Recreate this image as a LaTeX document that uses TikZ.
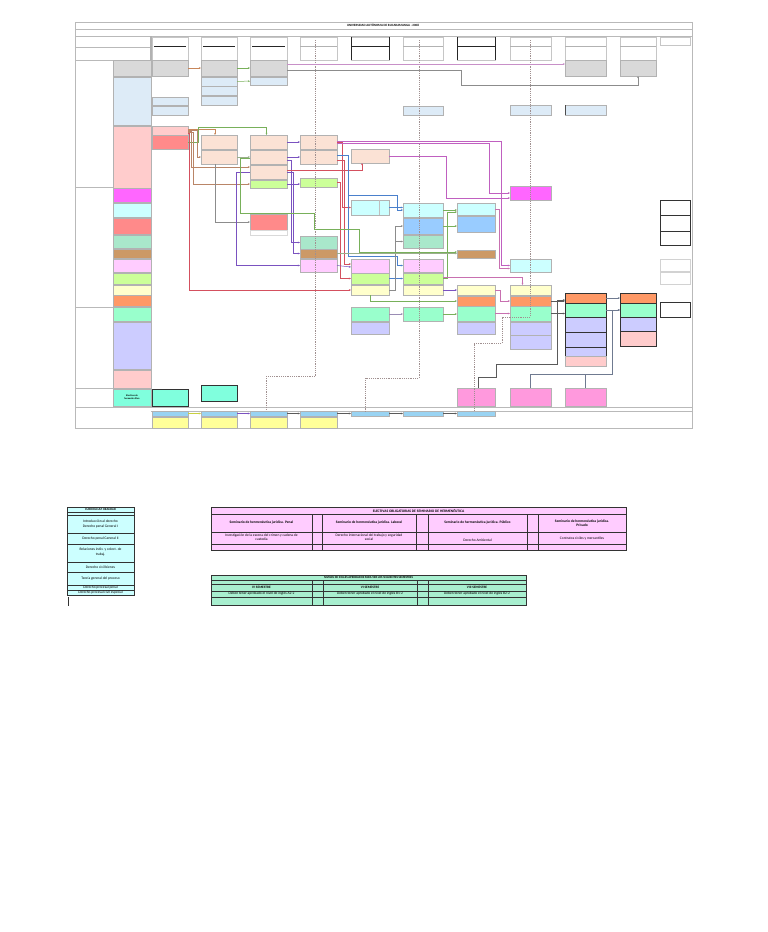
\documentclass[tikz,border=0pt]{standalone}
\usepackage{fontspec}
\setmainfont{Carlito}
\usetikzlibrary{arrows.meta, positioning, calc}

% cell fills
\definecolor{grayc}{HTML}{D9D9D9}
\definecolor{lblue}{HTML}{DDEBF7}
\definecolor{lred}{HTML}{FFCCCC}
\definecolor{salm}{HTML}{FF8A8A}
\definecolor{peach}{HTML}{FBE2D5}
\definecolor{lgreen}{HTML}{CCFF99}
\definecolor{magen}{HTML}{FF66FF}
\definecolor{lcyan}{HTML}{CCFFFF}
\definecolor{mint}{HTML}{A9E8CB}
\definecolor{tanc}{HTML}{CC9966}
\definecolor{lpink}{HTML}{FFCCFF}
\definecolor{lyellow}{HTML}{FFFFCC}
\definecolor{orangec}{HTML}{FF9966}
\definecolor{sgreen}{HTML}{99FFCC}
\definecolor{lavend}{HTML}{CCCCFF}
\definecolor{aqua}{HTML}{80FFDD}
\definecolor{bblue}{HTML}{99CCFF}
\definecolor{pinkm}{HTML}{FF99DD}
\definecolor{stripblue}{HTML}{99D3F2}
\definecolor{stripyellow}{HTML}{FFFF99}
\definecolor{tabmint}{HTML}{A8EFCF}
% line colours
\definecolor{lnorange}{HTML}{C8865A}
\definecolor{lngreen}{HTML}{78B05A}
\definecolor{lnmauve}{HTML}{C890C8}
\definecolor{lngray}{HTML}{8C8C8C}
\definecolor{lnbrown}{HTML}{B98567}
\definecolor{lnred}{HTML}{D4505E}
\definecolor{lngrayg}{HTML}{9AAE8C}
\definecolor{lnpurple}{HTML}{7A52C0}
\definecolor{lnmag}{HTML}{C060C0}
\definecolor{lnblue}{HTML}{4A80CC}
\definecolor{lnpink}{HTML}{C870B0}
\definecolor{lndark}{HTML}{5A5A5A}
\definecolor{lnslate}{HTML}{6F7A90}
\definecolor{lngrayp}{HTML}{9A8CB4}
\definecolor{lnyg}{HTML}{C8D040}
\definecolor{lndash}{HTML}{A09090}

\begin{document}
\begin{tikzpicture}[x=1pt, y=-1pt,
	cell/.style={draw=gray!60, line width=0.4pt, inner sep=0pt, outer sep=0pt, anchor=north west},
	blk/.style={cell, draw=black!80, line width=0.7pt},
	sz/.style 2 args={minimum width=#1pt, minimum height=#2pt},
	hdbox/.style={cell, draw=gray!45},
	frame/.style={gray!55, line width=0.5pt},
	link/.style={-{Stealth[length=2.2pt, width=1.8pt]}, line width=0.5pt},
	guide/.style={draw=lndash, line width=0.5pt, dash pattern=on 1.2pt off 1pt},
	tabline/.style={draw=black!80, line width=0.5pt},
	tabtxt/.style={inner sep=0pt, align=center, font=\fontsize{3.6}{4.3}\selectfont}
	]
	\path[use as bounding box, fill=white] (0,0) rectangle (768,932);

	% frame of the plan
	\draw[frame] (75,22) rectangle (692,428);
	\draw[frame] (75,29) -- (692,29) (75,36) -- (692,36) (75,47) -- (151,47) (75,60) -- (151,60);
	\draw[frame] (113,60) -- (113,407);
	\draw[gray!60, line width=1.2pt] (151,36) -- (151,407);
	\foreach \y in {187,307,388} \draw[frame] (75,\y) -- (113,\y);
	\draw[frame] (75,407) -- (692,407) (151,411) -- (692,411);
	\node[inner sep=0pt, font=\bfseries\fontsize{3.2}{3.8}\selectfont] (title) at (383,25.5) {UNIVERSIDAD AUTÓNOMA DE BUCARAMANGA - 2008};

	% semester headers
	\foreach \n/\x/\w in {1/152/36, 2/201/36, 3/250/37, 4/300/37, 5/351/38, 6/403/40, 7/457/38, 8/510/41, 9/565/41, 10/620/36}
		\node[hdbox, sz={\w}{23}] (hd\n) at (\x,37) {};
	\node[hdbox, sz={30}{8}] (hd11) at (660,37) {};
	\foreach \n in {1,2,3}
		\draw[line width=0.8pt, black!85] ($(hd\n.north west)+(2,9)$) -- ($(hd\n.north east)+(-2,9)$);
	\foreach \n in {4,6,8,9,10}
		\draw[gray!60] ($(hd\n.north west)+(0,9)$) -- ($(hd\n.north east)+(0,9)$);
	\foreach \n in {5,7}
		\draw[line width=0.8pt, black!85] (hd\n.north west) -- (hd\n.south west) (hd\n.north east) -- (hd\n.south east) ($(hd\n.north west)+(0,9)$) -- ($(hd\n.north east)+(0,9)$);

	% area column
	\foreach \n/\y/\h/\c in {1/60/16/grayc, 2/77/48/lblue, 3/126/62/lred, 4/188/14/magen, 5/203/14/lcyan, 6/218/16/salm, 7/235/13/mint, 8/249/9/tanc, 9/259/13/lpink, 10/273/11/lgreen, 11/285/10/lyellow, 12/295/11/orangec, 13/307/14/sgreen, 14/322/47/lavend, 15/370/18/lred}
		\node[cell, sz={38}{\h}, fill=\c] (L\n) at (113,\y) {};
	\node[cell, sz={38}{17}, fill=aqua, align=center, font=\bfseries\fontsize{2.4}{2.9}\selectfont] (L16) at (113,389) {Electivas de\\formación libre};

	% semester I
	\node[cell, sz={36}{16}, fill=grayc] (g1) at (152,60) {};
	\node[cell, sz={36}{8}, fill=lblue] (lb1a) at (152,97) {};
	\node[cell, sz={36}{9}, fill=lblue] (lb1b) at (152,106) {};
	\node[cell, sz={36}{9}, fill=lred] (r1) at (152,126) {};
	\node[cell, sz={36}{14}, fill=salm] (s1) at (152,135) {};
	\node[blk, sz={36}{17}, fill=aqua, line width=0.9pt] (aq1) at (152,389) {};
	% semester II
	\node[cell, sz={36}{16}, fill=grayc] (g2) at (201,60) {};
	\node[cell, sz={36}{9}, fill=lblue] (lb2a) at (201,77) {};
	\node[cell, sz={36}{9}, fill=lblue] (lb2b) at (201,86) {};
	\node[cell, sz={36}{9}, fill=lblue] (lb2c) at (201,96) {};
	\node[cell, sz={36}{14}, fill=peach] (p2a) at (201,135) {};
	\node[cell, sz={36}{14}, fill=peach] (p2b) at (201,150) {};
	\node[blk, sz={36}{16}, fill=aqua, line width=0.9pt] (aq2) at (201,385) {};
	% semester III
	\node[cell, sz={37}{16}, fill=grayc] (g3) at (250,60) {};
	\node[cell, sz={37}{8}, fill=lblue] (lb3) at (250,77) {};
	\node[cell, sz={37}{14}, fill=peach] (p3a) at (250,135) {};
	\node[cell, sz={37}{14}, fill=peach] (p3b) at (250,150) {};
	\node[cell, sz={37}{14}, fill=peach] (p3c) at (250,165) {};
	\node[cell, sz={37}{8}, fill=lgreen] (lg3) at (250,180) {};
	\node[cell, sz={37}{16}, fill=salm] (rd3) at (250,214) {};
	\node[cell, sz={37}{5}, fill=white, draw=gray!30] (wt3) at (250,230) {};
	% semester IV
	\node[cell, sz={37}{14}, fill=peach] (p4a) at (300,135) {};
	\node[cell, sz={37}{14}, fill=peach] (p4b) at (300,150) {};
	\node[cell, sz={37}{9}, fill=lgreen] (lg4) at (300,178) {};
	\node[cell, sz={37}{13}, fill=mint] (mt4) at (300,236) {};
	\node[cell, sz={37}{9}, fill=tanc] (tn4) at (300,249) {};
	\node[cell, sz={37}{13}, fill=lpink] (lp4) at (300,259) {};
	% semester V
	\node[cell, sz={38}{14}, fill=peach] (p5) at (351,149) {};
	\node[cell, sz={38}{15}, fill=lcyan] (lc5) at (351,200) {};
	\draw[gray!50] ($(lc5.north)+(9,0)$) -- ($(lc5.south)+(9,0)$);
	\node[cell, sz={38}{14}, fill=lpink] (lp5) at (351,259) {};
	\node[cell, sz={38}{11}, fill=lgreen] (lg5) at (351,273) {};
	\node[cell, sz={38}{10}, fill=lyellow] (y5) at (351,285) {};
	\node[cell, sz={38}{14}, fill=sgreen] (sg5) at (351,307) {};
	\node[cell, sz={38}{12}, fill=lavend] (lv5) at (351,322) {};
	% semester VI
	\node[cell, sz={40}{9}, fill=lblue] (lb6) at (403,106) {};
	\node[cell, sz={40}{14}, fill=lcyan] (lc6) at (403,203) {};
	\node[cell, sz={40}{16}, fill=bblue] (bb6) at (403,218) {};
	\node[cell, sz={40}{13}, fill=mint] (mt6) at (403,235) {};
	\node[cell, sz={40}{13}, fill=lpink] (lp6) at (403,259) {};
	\node[cell, sz={40}{11}, fill=lgreen] (lg6) at (403,273) {};
	\node[cell, sz={40}{10}, fill=lyellow] (y6) at (403,285) {};
	\node[cell, sz={40}{14}, fill=sgreen] (sg6) at (403,307) {};
	% semester VII
	\node[cell, sz={38}{12}, fill=lcyan] (lc7) at (457,203) {};
	\node[cell, sz={38}{16}, fill=bblue] (bb7) at (457,216) {};
	\node[cell, sz={38}{8}, fill=tanc] (tn7) at (457,250) {};
	\node[cell, sz={38}{10}, fill=lyellow] (y7) at (457,285) {};
	\node[cell, sz={38}{10}, fill=orangec] (or7) at (457,296) {};
	\node[cell, sz={38}{15}, fill=sgreen] (sg7) at (457,306) {};
	\node[cell, sz={38}{12}, fill=lavend] (lv7) at (457,322) {};
	\node[cell, sz={38}{18}, fill=pinkm] (pm7) at (457,388) {};
	% semester VIII
	\node[cell, sz={41}{10}, fill=lblue] (lb8) at (510,105) {};
	\node[cell, sz={41}{14}, fill=magen] (mg8) at (510,186) {};
	\node[cell, sz={41}{13}, fill=lcyan] (lc8) at (510,259) {};
	\node[cell, sz={41}{10}, fill=lyellow] (y8) at (510,285) {};
	\node[cell, sz={41}{10}, fill=orangec] (or8) at (510,296) {};
	\node[cell, sz={41}{15}, fill=sgreen] (sg8) at (510,306) {};
	\node[cell, sz={41}{13}, fill=lavend] (lv8a) at (510,322) {};
	\node[cell, sz={41}{14}, fill=lavend] (lv8b) at (510,335) {};
	\node[cell, sz={41}{18}, fill=pinkm] (pm8) at (510,388) {};
	% semester IX
	\node[cell, sz={41}{16}, fill=grayc] (g9) at (565,60) {};
	\node[cell, sz={41}{10}, fill=lblue] (lb9) at (565,105) {};
	\draw[black!70, line width=0.7pt] (lb9.north west) -- (lb9.south west);
	\node[blk, sz={41}{10}, fill=orangec] (or9) at (565,293) {};
	\node[blk, sz={41}{14}, fill=sgreen] (sg9) at (565,303) {};
	\node[blk, sz={41}{15}, fill=lavend] (lv9a) at (565,317) {};
	\node[blk, sz={41}{15}, fill=lavend] (lv9b) at (565,332) {};
	\node[blk, sz={41}{9}, fill=lavend] (lv9c) at (565,347) {};
	\node[cell, sz={41}{10}, fill=lred] (pk9) at (565,356) {};
	\node[cell, sz={41}{18}, fill=pinkm] (pm9) at (565,388) {};
	% semester X
	\node[cell, sz={36}{16}, fill=grayc] (g10) at (620,60) {};
	\node[blk, sz={36}{10}, fill=orangec] (or10) at (620,293) {};
	\node[blk, sz={36}{14}, fill=sgreen] (sg10) at (620,303) {};
	\node[blk, sz={36}{14}, fill=lavend] (lv10) at (620,317) {};
	\node[blk, sz={36}{15}, fill=lred] (pk10) at (620,331) {};
	% side column
	\node[blk, sz={30}{15}] (k11a) at (660,200) {};
	\node[blk, sz={30}{16}] (k11b) at (660,215) {};
	\node[blk, sz={30}{14}] (k11c) at (660,231) {};
	\node[cell, sz={30}{12}, draw=gray!35] (w11a) at (660,259) {};
	\node[cell, sz={30}{12}, draw=gray!35] (w11b) at (660,272) {};
	\node[blk, sz={30}{15}, line width=0.9pt] (k11d) at (660,302) {};

	% bottom strip
	\foreach \n/\x/\w in {1/152/36, 2/201/36, 3/250/37, 4/300/37}{
		\node[cell, sz={\w}{5}, fill=stripblue] (bl\n) at (\x,411) {};
		\node[cell, sz={\w}{11}, fill=stripyellow] (yl\n) at (\x,417) {};
	}
	\foreach \n/\x/\w in {5/351/38, 6/403/40, 7/457/38}
		\node[cell, sz={\w}{5}, fill=stripblue] (bl\n) at (\x,411) {};

	% guide lines
	\draw[guide] ($(hd4.north)+(-3,3)$) |- ($(bl3.north)+(-2,-35)$) -- ($(bl3.north)+(-2,0)$);
	\draw[guide] ($(hd6.north)+(-4,3)$) |- ($(bl5.north)+(-5,-33)$) -- ($(bl5.north)+(-5,0)$);
	\draw[guide] ($(hd8.north)+(0,3)$) |- ($(bl7.north)+(26,-94)$) |- ($(bl7.north)+(-2,-68)$) -- ($(bl7.north)+(-2,0)$);

	% connectors
	\draw[link, lnorange] (g1) -- (g2);
	\draw[link, lngreen] (g2) -- (g3);
	\draw[link, lngreen] (lb2a) -- (lb3);
	\draw[link, lnmauve] ($(g3.east)+(0,-4)$) -- ($(g9.west)+(0,-4)$);
	\draw[link, lngray] ($(g3.east)+(0,2)$) -- ++(174,0) |- ($(g10.south)+(0,9)$) -- (g10.south);
	\draw[link, lnorange] ($(r1.east)+(0,-1)$) -| ($(p2a.north)+(-4,0)$);
	\draw[link, lngreen] (s1.east) -- ++(10,0) |- ($(p3a.north)+(-2,-8)$) -- ($(p3a.north)+(-2,0)$);
	\draw[link, lnbrown] (r1.east) -- ++(9,0) |- (p2b.west);
	\draw[link, lnbrown] ($(r1.east)+(0,1)$) -- ++(3,0) |- ($(p3c.west)+(0,-5)$);
	\draw[link, lnbrown] ($(r1.east)+(0,2)$) -- ++(5,0) |- (lg3.west);
	\draw[link, lnred] ($(r1.east)+(0,3)$) -- ++(1,0) |- (y5.west);
	\draw[link, lngrayg] (p2b) -- (p3b);
	\draw[link, lngray] ($(p2b.south)+(-4,0)$) |- (rd3.west);
	\draw[link, lnpurple] (p3a) -- (p4a);
	\draw[link, lnpurple] (p3b) -- (p4b);
	\draw[link, lnpurple] (lg3.east) -- (lg3.east -| lg4.west);
	\draw[link, lnpurple] ($(p3b.east)+(0,3)$) -- ++(4,0) |- (mt4.west);
	\draw[link, lnpurple] (p3c.east) -- ++(6,0) |- (tn4.west);
	\draw[link, lnpurple] (p3c.west) -- ++(-14,0) |- (lp4.west);
	\draw[link, lnred] (p4a.east) -- ++(5,0) |- (lc5.west);
	\draw[link, lnred] ($(p3c.east)+(0,-2)$) -| ($(p5.south)+(-8,0)$);
	\draw[link, lnred] ($(p4b.east)+(0,3)$) -- ++(7,0) |- ($(lp5.west)+(0,-2)$);
	\draw[link, lnred] (lg4.east) -- ++(3,0) |- (lg5.west);
	\draw[link, lnpurple] (lp4.east) -- ($(lp5.west)+(0,1)$);
	\draw[link, lnmag] ($(p4a.east)+(0,1)$) -- ++(152,0) |- (mg8.west);
	\draw[link, lnmag] ($(p4a.east)+(0,-1)$) -- ++(164,0) |- (lc8.west);
	\draw[link, lnmag] (p5.east) -- ++(57,0) |- ($(mg8.west)+(0,5)$);
	\draw[link, lnblue] ($(p4b.east)+(0,-2)$) -- ++(11,0) |- ($(lc6.west)+(-6,-15)$) |- (lc6.west);
	\draw[link, lnblue] ($(p4b.east)+(0,-2)$) -- ++(11,0) |- ($(lp6.west)+(-6,-9)$) |- (lp6.west);
	\draw[link, lnblue] (lc5.east) -- (lc5.east -| lc6.west);
	\draw[link, lnblue] (lg5.east) -- (lg5.east -| lg6.west);
	\draw[link, lngray] (y5.east) -- ++(6,0) |- (mt6.west);
	\draw[link, lngray] ($(y5.east)+(6,0)$) |- (bb6.west);
	\draw[link, lngreen] (lc6.east) -- (lc6.east -| lc7.west);
	\draw[link, lngreen] (bb6.east) -- (bb6.east -| bb7.west);
	\draw[link, lngreen] (lg6.east) -- ++(4,0) |- ($(lc7.west)+(0,3)$);
	\draw[link, lngrayg] (tn4.east) -- (tn4.east -| tn7.west);
	\draw[link, lngreen] ($(p3b.west)+(0,1)$) -- ++(-10,0) |- ++(74,55) |- ++(45,16) |- ($(tn7.west)+(0,-2)$);
	\draw[link, lngreen] (y5.south) |- (or7.west);
	\draw[link, lngrayp] (sg5) -- (sg6);
	\draw[link, lngreen] (sg6.east) -- (sg6.east -| sg7.west);
	\draw[link, lnpurple] (y6.east) -- (y6.east -| y7.west);
	\draw[link, lnpink] (y7.east) -- ++(5,0) |- (or8.west);
	\draw[link, lnpink] (sg7.east) -- (sg7.east -| sg8.west);
	\draw[link, lnpink] ($(lg6.east)+(0,-1)$) -| ($(y8.north)+(-8,0)$);
	\draw[link, lnpink] (lc7.east) -- ++(4,0) |- ($(lc8.west)+(0,3)$);
	\draw[link, lndark] (or8.east) -- (or8.east -| or9.west);
	\draw[link, lndark] (sg8.east) -- (sg8.east -| sg9.west);
	\draw[link, lndark, line width=0.9pt] ($(pm7.north)+(2,0)$) |- ++(18,-11) |- ++(61,-13) |- ($(or9.west)+(0,2)$);
	\draw[link, lnslate, line width=0.7pt] (pm8.north) |- ++(82,-14) |- (sg10.west);
	\draw[lnslate, line width=0.7pt] (pm9.north) -- ++(0,-14);
	\draw[link, lnslate] (or9.east) -- (or9.east -| or10.west);
	\draw[link, lnslate] (sg9.east) -- (sg9.east -| sg10.west);
	\draw[link, lnyg] (bl1) -- (bl2);
	\draw[link, lnpurple] (bl2) -- (bl3);
	\foreach \a/\b in {3/4, 4/5, 5/6, 6/7}
		\draw[link, lndark] (bl\a) -- (bl\b);

	% table of oral subjects
	\draw[tabline, fill=lcyan] (67,507) rectangle (134,595);
	\foreach \y in {512,515,533,544,562,572,585,590}
		\draw[tabline] (67,\y) -- (134,\y);
	\draw[tabline] (68,597) -- (68,606);
	\node[tabtxt, font=\bfseries\fontsize{3}{3.6}\selectfont] (oralhead) at (100.5,509.5) {CURRICULUM ORALIDAD};
	\node[tabtxt] (oral1) at (100.5,524) {Introducción al derecho\\Derecho penal General I};
	\node[tabtxt] (oral2) at (100.5,538.5) {Derecho penal General II};
	\node[tabtxt] (oral3) at (100.5,552) {Relaciones indiv. y colect. de\\trabaj.};
	\node[tabtxt] (oral4) at (100.5,567) {Derecho civil bienes};
	\node[tabtxt] (oral5) at (100.5,578.5) {Teoría general del proceso};
	\node[tabtxt] (oral6) at (100.5,587.5) {Derecho procesal penal};
	\node[tabtxt] (oral7) at (100.5,592.5) {Derecho procesal civil especial};

	% table of hermeneutics seminars
	\draw[tabline, line width=0.9pt, fill=lpink] (211,507) rectangle (626,550);
	\draw[tabline] (211,514) -- (626,514) (211,532) -- (626,532) (211,544) -- (626,544);
	\foreach \x in {312,322,416,428,527,538}
		\draw[tabline, line width=0.9pt] (\x,514) -- (\x,550);
	\node[tabtxt, font=\bfseries\fontsize{3.6}{4.3}\selectfont] (hermhead) at (418.5,510.5) {ELECTIVAS OBLIGATORIAS DE SEMINARIO DE HERMENÉUTICA};
	\node[tabtxt, font=\bfseries\fontsize{3.6}{4.3}\selectfont] (hpenal) at (261.5,523) {Seminario de hermenéutica jurídica. Penal};
	\node[tabtxt, font=\bfseries\fontsize{3.6}{4.3}\selectfont] (hlaboral) at (369,523) {Seminario de hermenéutica jurídica. Laboral};
	\node[tabtxt, font=\bfseries\fontsize{3.6}{4.3}\selectfont] (hpublico) at (477.5,523) {Seminario de hermenéutica jurídica. Público};
	\node[tabtxt, font=\bfseries\fontsize{3.6}{4.3}\selectfont] (hprivado) at (582,523) {Seminario de hermenéutica jurídica.\\Privado};
	\node[tabtxt] (epenal) at (261.5,537.5) {Investigación de la escena del crimen y cadena de\\custodia};
	\node[tabtxt] (elaboral) at (369,537.5) {Derecho internacional del trabajo y seguridad\\social};
	\node[tabtxt] (epublico) at (477.5,540.5) {Derecho Ambiental};
	\node[tabtxt] (eprivado) at (582,539) {Contratos civiles y mercantiles};

	% table of English levels
	\draw[tabline, line width=0.9pt, fill=tabmint] (211,575) rectangle (526,605);
	\foreach \y in {580,584,591,597}
		\draw[tabline] (211,\y) -- (526,\y);
	\foreach \x in {312,323,417,428}
		\draw[tabline, line width=0.9pt] (\x,580) -- (\x,605);
	\node[tabtxt, font=\bfseries\fontsize{3}{3.6}\selectfont] (ingleshead) at (368.5,577.5) {NIVELES DE INGLÉS APROBADOS PARA VER LOS SIGUIENTES SEMESTRES};
	\node[tabtxt, font=\bfseries\fontsize{3.4}{4}\selectfont] (sem4) at (261.5,587.5) {IV SEMESTRE};
	\node[tabtxt, font=\bfseries\fontsize{3.4}{4}\selectfont] (sem6) at (370,587.5) {VI SEMESTRE};
	\node[tabtxt, font=\bfseries\fontsize{3.4}{4}\selectfont] (sem8) at (477,587.5) {VIII SEMESTRE};
	\node[tabtxt] (niv4) at (261.5,594) {Deben tener aprobado el nivel de inglés A2-2};
	\node[tabtxt] (niv6) at (370,594) {Deben tener aprobado el nivel de inglés B1-2};
	\node[tabtxt] (niv8) at (477,594) {Deben tener aprobado el nivel de inglés B2-2};
\end{tikzpicture}
\end{document}
